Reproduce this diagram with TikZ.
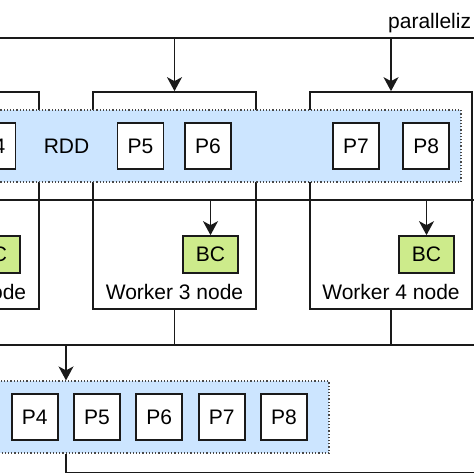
\documentclass[tikz,border=0pt]{standalone}
\usepackage{fontspec}
\setmainfont{Liberation Sans}
\usetikzlibrary{arrows.meta}
\definecolor{bandblue}{HTML}{CCE5FF}
\definecolor{bcgreen}{HTML}{CDEB8B}
\definecolor{ink}{HTML}{1A1A1A}
\begin{document}
\begin{tikzpicture}[x=1pt,y=-1pt,
  font=\fontsize{21}{24}\selectfont,
  conn/.style={draw=ink, line width=1.7pt},
  arr/.style={conn, -{Stealth[length=14pt,width=15pt,inset=4pt]}},
  workerbox/.style={draw=ink, line width=1.7pt, fill=white, minimum width=163pt, minimum height=217pt, inner sep=0pt},
  band/.style={draw=ink!80, line width=1.2pt, dotted, fill=bandblue, inner sep=0pt},
  part/.style={draw=ink, line width=1.7pt, fill=white, minimum width=46pt, minimum height=46pt, inner sep=0pt},
  bcbox/.style={draw=ink, line width=1.7pt, fill=bcgreen, minimum width=55pt, minimum height=37pt, inner sep=0pt},
  lbl/.style={inner sep=0pt}]
\useasboundingbox (0,0) rectangle (474,474);
\clip (0,0) rectangle (474,474);
% worker boxes
\node[workerbox] (w2) at (-42.5,200.5) {};
\node[workerbox] (w3) at (174.5,200.5) {};
\node[workerbox, minimum width=162pt] (w4) at (391,200.5) {};
% text
\node[lbl, anchor=base west] (par) at (388,28.5) {paralleliz};
\node[lbl, anchor=base] (t2) at (-42.5,299) {Worker 2 node};
\node[lbl, anchor=base] (t3) at (174.5,299) {Worker 3 node};
\node[lbl, anchor=base] (t4) at (391,299) {Worker 4 node};
% BC boxes
\node[bcbox] (bc2) at (-7.5,254.5) {BC};
\node[bcbox] (bc3) at (210.5,254.5) {BC};
\node[bcbox] (bc4) at (426.5,254.5) {BC};
% top distribution line
\coordinate (tl) at (-10,38);
\coordinate (tr) at (480,38);
\draw[conn] (tl) -- (tr);
\draw[arr] (w3.north |- tl) -- (w3.north);
\draw[arr] (w4.north |- tl) -- (w4.north);
% broadcast line
\coordinate (bl) at (-10,200);
\coordinate (br) at (480,200);
\draw[conn] (bl) -- (br);
\draw[arr] (bc3.north |- bl) -- (bc3.north);
\draw[arr] (bc4.north |- bl) -- (bc4.north);
% RDD band
\node[band, minimum width=531pt, minimum height=72pt] (rdd) at (195.5,146) {};
\node[lbl] (rddl) at (66.5,146) {RDD};
\node[part] (p4) at (-7.5,146) {P4};
\node[part] (p5) at (140.5,146) {P5};
\node[part] (p6) at (208,146) {P6};
\node[part] (p7) at (356,146) {P7};
\node[part] (p8) at (426.3,146) {P8};
% collect line
\coordinate (cl) at (-10,345);
\coordinate (cr) at (480,345);
\coordinate (cin) at (66,345);
\draw[conn] (w3.south) -- (w3.south |- cl);
\draw[conn] (w4.south) -- (w4.south |- cl);
\draw[conn] (cl) -- (cr);
% bottom band
\node[band, minimum width=369pt, minimum height=72pt] (res) at (144.5,417) {};
\draw[arr] (cin) -- (cin |- res.north);
\node[part] (q4) at (34.8,417) {P4};
\node[part] (q5) at (97,417) {P5};
\node[part] (q6) at (159.3,417) {P6};
\node[part] (q7) at (221.7,417) {P7};
\node[part] (q8) at (284,417) {P8};
\coordinate (out) at (480,472.5);
\draw[conn] (cin |- res.south) |- (out);
\end{tikzpicture}
\end{document}
